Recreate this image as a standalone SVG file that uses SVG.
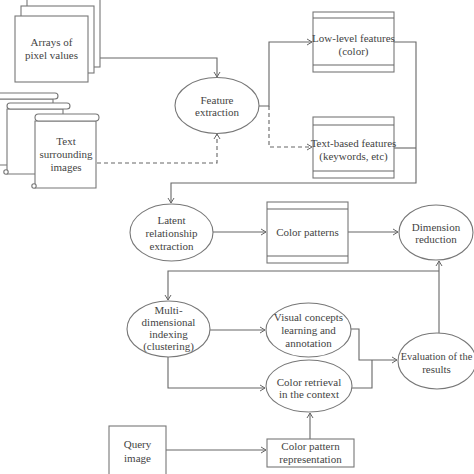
<svg xmlns="http://www.w3.org/2000/svg" width="474" height="474" viewBox="0 0 474 474">
<style>
.s{fill:#fff;stroke:#777;stroke-width:1.1}
.l{fill:none;stroke:#666;stroke-width:1.1}
.d{fill:none;stroke:#666;stroke-width:1.1;stroke-dasharray:4 3}
text{font-family:"Liberation Serif","Times New Roman",serif;font-size:11px;fill:#444;text-anchor:middle}
</style>
<defs>
<marker id="a" markerUnits="userSpaceOnUse" markerWidth="8" markerHeight="8" refX="6" refY="4" orient="auto">
<path d="M1,1 L6,4 L1,7" fill="none" stroke="#666" stroke-width="1"/>
</marker>
</defs>
<rect width="474" height="474" fill="#fff"/>

<g id="connectors">
<path class="l" d="M100,58 H217 V77" marker-end="url(#a)"/>
<path class="d" d="M97,163 H217 V134" marker-end="url(#a)"/>
<path class="l" d="M259,106 H269 V42 H312" marker-end="url(#a)"/>
<path class="d" d="M269,106 V147 H312" marker-end="url(#a)"/>
<path class="l" d="M394,42 H416 V183 H171 V203"  marker-end="url(#a)"/>
<path class="l" d="M394,148 H416"/>
<path class="l" d="M213,232 H266" marker-end="url(#a)"/>
<path class="l" d="M348,232 H398" marker-end="url(#a)"/>
<path class="l" d="M439,333 V261" marker-end="url(#a)"/>
<path class="l" d="M439,271 H168 V300" marker-end="url(#a)"/>
<path class="l" d="M210,330 H265" marker-end="url(#a)"/>
<path class="l" d="M168,357 V388 H265" marker-end="url(#a)"/>
<path class="l" d="M351,329 H359 V360 H397" marker-end="url(#a)"/>
<path class="l" d="M352,388 H372 V360"/>
<path class="l" d="M166,450 H266" marker-end="url(#a)"/>
<path class="l" d="M310,439 V413" marker-end="url(#a)"/>
</g>

<g id="arrays">
<rect class="s" x="27" y="-5" width="73" height="72"/>
<rect class="s" x="21" y="6" width="73" height="67"/>
<rect class="s" x="15" y="16" width="73" height="66"/>
<text x="51.5" y="46">Arrays of</text>
<text x="51.5" y="59">pixel values</text>
</g>

<g id="text-surrounding">
<path class="s" d="M-2,99 H53 V165 H-2 Z"/>
<rect class="s" x="-5" y="93" width="63" height="6" rx="3"/>
<path class="s" d="M7,109 H63 V174 H7 Z"/>
<rect class="s" x="7" y="103" width="63" height="6" rx="3"/>
<circle class="s" cx="6" cy="172" r="2.2"/>
<path class="s" d="M35,121 H96 V188 H35 Z"/>
<rect class="s" x="35" y="114" width="64" height="7" rx="3.5"/>
<circle class="s" cx="34" cy="186" r="2.2"/>
<text x="66" y="145">Text</text>
<text x="66" y="158">surrounding</text>
<text x="66" y="171">images</text>
</g>

<g id="feature-extraction">
<ellipse class="s" cx="217" cy="105.5" rx="42" ry="28"/>
<text x="217" y="104">Feature</text>
<text x="217" y="116">extraction</text>
</g>

<g id="low-level">
<rect class="s" x="313" y="12" width="81" height="60"/>
<path class="l" d="M313,18 H394 M313,65 H394"/>
<text x="353.5" y="42">Low-level features</text>
<text x="353.5" y="55">(color)</text>
</g>

<g id="text-based">
<rect class="s" x="313" y="117" width="81" height="61"/>
<path class="l" d="M313,125 H394 M313,171 H394"/>
<text x="353.5" y="147">Text-based features</text>
<text x="353.5" y="160">(keywords, etc)</text>
</g>

<g id="latent">
<ellipse class="s" cx="171.5" cy="232.5" rx="41.5" ry="28.5"/>
<text x="171.5" y="224">Latent</text>
<text x="171.5" y="237">relationship</text>
<text x="171.5" y="250">extraction</text>
</g>

<g id="color-patterns">
<rect class="s" x="267" y="202" width="81" height="61"/>
<path class="l" d="M267,209 H348 M267,256 H348"/>
<text x="307.5" y="236">Color patterns</text>
</g>

<g id="dimension-reduction">
<ellipse class="s" cx="436" cy="232.5" rx="37" ry="27.5"/>
<text x="436" y="231">Dimension</text>
<text x="436" y="243">reduction</text>
</g>

<g id="multi-indexing">
<ellipse class="s" cx="168.5" cy="329" rx="41.5" ry="28"/>
<text x="168.5" y="314">Multi-</text>
<text x="168.5" y="326">dimensional</text>
<text x="168.5" y="338">indexing</text>
<text x="168.5" y="350">(clustering)</text>
</g>

<g id="visual-concepts">
<ellipse class="s" cx="308.5" cy="330" rx="42.5" ry="27"/>
<text x="308.5" y="321">Visual concepts</text>
<text x="308.5" y="334">learning and</text>
<text x="308.5" y="347">annotation</text>
</g>

<g id="color-retrieval">
<ellipse class="s" cx="309" cy="386" rx="43" ry="26"/>
<text x="309" y="386">Color retrieval</text>
<text x="309" y="398">in the context</text>
</g>

<g id="evaluation">
<ellipse class="s" cx="437" cy="361" rx="39" ry="28"/>
<text x="436.5" y="360" style="font-size:10.4px">Evaluation of the</text>
<text x="436.5" y="373">results</text>
</g>

<g id="query-image">
<rect class="s" x="109" y="426" width="57" height="55"/>
<text x="137.5" y="448">Query</text>
<text x="137.5" y="462">image</text>
</g>

<g id="color-pattern-representation">
<rect class="s" x="267" y="439" width="87" height="28"/>
<text x="310.5" y="450">Color pattern</text>
<text x="310.5" y="463">representation</text>
</g>
</svg>
